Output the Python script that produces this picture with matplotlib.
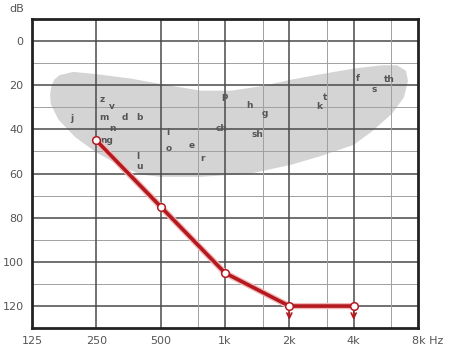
import matplotlib
matplotlib.use("Agg")
import matplotlib.pyplot as plt
import matplotlib.patheffects as pe
from matplotlib.patches import Polygon

# hearing thresholds (Hz, dB HL)
freqs = [250, 500, 1000, 2000, 4000]
levels = [45, 75, 105, 120, 120]
no_response = [2000, 4000]

# speech banana outline (Hz, dB)
banana_f = [152, 154, 159, 168, 195, 250, 361, 500, 771, 1067, 1476, 2044, 2828, 4000,
            5416, 6373, 7024, 7178, 6875, 6030, 4861, 4000, 2828, 2044, 1325, 771,
            500, 403, 324, 250, 199, 166, 153]
banana_db = [24, 20.5, 17.5, 15.5, 14, 15, 17, 19.5, 22.5, 22.5, 20.5, 17.5, 15, 12.5,
             11, 11, 13.5, 18, 25.5, 33, 41, 47, 52, 56, 60, 61.5,
             61.5, 60.5, 56.5, 50.5, 43.5, 35.5, 28.5]

# speech sounds
sounds = ["z", "v", "j", "m", "d", "b", "n", "ng", "i", "o", "e", "l", "u", "r",
          "p", "h", "g", "ch", "sh", "k", "t", "f", "s", "th"]
sound_f = [267, 297, 193, 270, 339, 398, 297, 279, 539, 543, 700, 390, 398, 788,
           989, 1297, 1542, 968, 1414, 2769, 2954, 4177, 4967, 5844]
sound_db = [26.5, 29.5, 35, 34.5, 34.5, 34.5, 39.5, 45, 41.5, 48.5, 47.5, 52.5, 57, 53,
            25, 29, 33, 39.5, 42.5, 29.5, 25.5, 17, 22, 17.5]

xticks = [125, 250, 500, 1000, 2000, 4000, 8000]
xlabels = ["125", "250", "500", "1k", "2k", "4k", ""]
minor_x = [750, 1500, 3000, 6000]
yticks = [0, 20, 40, 60, 80, 100, 120]

fig = plt.figure(figsize=(4.5, 3.63), dpi=100)
ax = fig.add_axes([0.071, 0.096, 0.858, 0.852])
ax.set_xscale("log", base=2)
ax.set_xlim(125, 8000)
ax.set_ylim(130, -10)

ax.add_patch(Polygon(list(zip(banana_f, banana_db)), closed=True,
                     facecolor="#d4d4d4", edgecolor="none", zorder=0))

# grid
for y in range(-10, 131, 10):
    if y % 20 == 0:
        ax.axhline(y, color="#4a4a4a", lw=1.1, zorder=1)
    else:
        ax.axhline(y, color="#a0a0a0", lw=0.7, zorder=1)
for x in xticks[1:-1]:
    ax.axvline(x, color="#4a4a4a", lw=1.1, zorder=1)
for x in minor_x:
    ax.axvline(x, color="#a0a0a0", lw=0.7, zorder=1)

for s, f, d in zip(sounds, sound_f, sound_db):
    ax.text(f, d, s, fontsize=6.5, color="#555555", ha="center", va="center",
            fontweight="bold", zorder=2)

red = "#b3191e"
halo = [pe.Stroke(linewidth=4.5, foreground="#f2b8b8"), pe.Normal()]
ax.plot(freqs, levels, color=red, lw=2.6, zorder=3, path_effects=halo,
        solid_capstyle="round")
for f in no_response:
    ax.annotate("", xy=(f, 127.5), xytext=(f, 121.5),
                arrowprops=dict(arrowstyle="->", color=red, lw=1.2,
                                mutation_scale=9), zorder=3)
ax.plot(freqs, levels, "o", ms=5.5, mfc="white", mec=red, mew=1.1, zorder=4)

ax.set_xticks(xticks)
ax.set_xticklabels(xlabels)
ax.minorticks_off()
ax.set_yticks(yticks)
ax.tick_params(length=0, labelsize=8, colors="#555555", pad=6)
ax.text(1.025, -0.026, "8k Hz", transform=ax.transAxes, fontsize=8,
        color="#555555", ha="center", va="top")
ax.text(-0.04, 1.015, "dB", transform=ax.transAxes, fontsize=8,
        color="#555555", ha="center", va="bottom")

for sp in ax.spines.values():
    sp.set_linewidth(2)
    sp.set_color("#222222")

fig.savefig("out.png", dpi=100)
